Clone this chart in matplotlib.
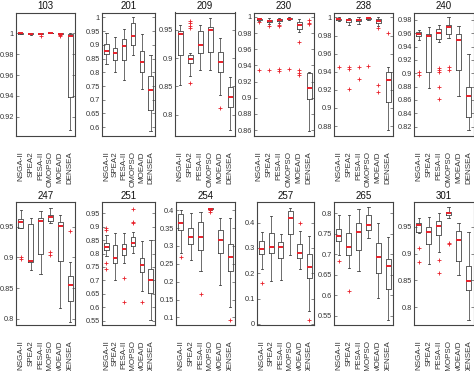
import matplotlib
matplotlib.use("Agg")
import matplotlib.pyplot as plt
import numpy as np

plt.rcParams['font.family'] = ['Liberation Sans', 'DejaVu Sans']

algorithms = ["NSGA-II", "SPEA2", "PESA-II", "OMOPSO", "MOEA/D", "DENSEA"]
titles = ["103", "201", "209", "230", "238", "240",
          "247", "251", "254", "257", "265", "301"]

# ---- per-problem box statistics (median, q1, q3, whisker low, whisker high, outliers)
p103_med = [1.0, 0.9995, 0.9998, 1.0, 0.9995, 0.9978]
p103_q1 = [0.9998, 0.999, 0.9995, 0.9999, 0.999, 0.9385]
p103_q3 = [1.0, 1.0, 1.0, 1.0, 1.0, 0.999]
p103_lo = [0.9996, 0.998, 0.9993, 0.9999, 0.9985, 0.907]
p103_hi = [1.0, 1.0, 1.0, 1.0, 1.0, 1.0]
p103_out = [[], [], [0.9975], [], [0.9975, 0.998], []]

p201_med = [0.878, 0.872, 0.895, 0.933, 0.838, 0.734]
p201_q1 = [0.866, 0.844, 0.846, 0.899, 0.801, 0.661]
p201_q3 = [0.905, 0.887, 0.920, 0.978, 0.878, 0.785]
p201_lo = [0.832, 0.801, 0.771, 0.862, 0.740, 0.585]
p201_hi = [0.944, 0.929, 0.957, 1.0, 0.938, 0.862]
p201_out = [[], [], [], [], [], []]

p209_med = [0.9418, 0.8975, 0.9226, 0.9488, 0.8934, 0.8322]
p209_q1 = [0.905, 0.8905, 0.908, 0.911, 0.876, 0.8136]
p209_q3 = [0.9477, 0.905, 0.9477, 0.9547, 0.911, 0.8486]
p209_lo = [0.8526, 0.868, 0.8789, 0.8789, 0.835, 0.7728]
p209_hi = [0.9576, 0.908, 0.9576, 0.9704, 0.936, 0.866]
p209_out = [[], [0.965, 0.961, 0.957, 0.953, 0.8567], [], [], [0.8118], []]

p230_med = [0.9975, 0.995, 0.996, 0.998, 0.9897, 0.9116]
p230_q1 = [0.9965, 0.9935, 0.995, 0.9975, 0.9856, 0.898]
p230_q3 = [0.998, 0.9965, 0.9975, 0.9988, 0.9938, 0.930]
p230_lo = [0.995, 0.991, 0.9925, 0.9965, 0.9815, 0.8594]
p230_hi = [0.999, 0.999, 0.999, 0.9995, 0.998, 0.932]
p230_out = [[0.994, 0.934], [0.9885, 0.934], [0.9905, 0.989, 0.935, 0.933],
            [0.935], [0.969, 0.934, 0.931, 0.928], [0.996, 0.9926, 0.991]]

p238_med = [0.998, 0.997, 0.9975, 0.9989, 0.9956, 0.9308]
p238_q1 = [0.997, 0.9955, 0.996, 0.998, 0.9935, 0.9069]
p238_q3 = [0.9988, 0.998, 0.9985, 0.9993, 0.998, 0.940]
p238_lo = [0.9962, 0.9915, 0.993, 0.9975, 0.991, 0.8756]
p238_hi = [1.0, 0.9995, 1.0, 1.0, 1.0, 0.9448]
p238_out = [[0.9455], [0.9455, 0.943, 0.9205], [0.9455, 0.9316],
            [0.946], [0.988, 0.925, 0.918], [0.9823]]

p240_med = [0.959, 0.956, 0.961, 0.970, 0.950, 0.866]
p240_q1 = [0.956, 0.9025, 0.951, 0.959, 0.905, 0.835]
p240_q3 = [0.9625, 0.959, 0.966, 0.9725, 0.959, 0.879]
p240_lo = [0.950, 0.8775, 0.9475, 0.9525, 0.866, 0.815]
p240_hi = [0.965, 0.969, 0.9725, 0.984, 0.971, 0.929]
p240_out = [[0.9025, 0.8975], [], [0.9075, 0.905, 0.9025, 0.880, 0.861],
            [0.910, 0.905], [], []]

p247_med = [0.9567, 0.894, 0.9594, 0.9656, 0.9511, 0.8555]
p247_q1 = [0.9472, 0.8917, 0.9055, 0.9583, 0.894, 0.8288]
p247_q3 = [0.9622, 0.9539, 0.9639, 0.9694, 0.9567, 0.8694]
p247_lo = [0.9472, 0.8789, 0.8733, 0.9556, 0.8177, 0.7944]
p247_hi = [0.9767, 0.9639, 0.975, 0.9806, 0.9694, 0.8917]
p247_out = [[0.900, 0.897], [], [], [0.908, 0.904], [], [0.943]]

p251_med = [0.826, 0.783, 0.816, 0.841, 0.758, 0.702]
p251_q1 = [0.814, 0.764, 0.795, 0.828, 0.733, 0.652]
p251_q3 = [0.841, 0.832, 0.836, 0.861, 0.783, 0.742]
p251_lo = [0.791, 0.700, 0.766, 0.801, 0.662, 0.553]
p251_hi = [0.869, 0.876, 0.878, 0.882, 0.848, 0.851]
p251_out = [[0.894, 0.888, 0.764, 0.742], [], [0.708, 0.621],
            [0.965, 0.919, 0.913], [0.621], []]

p254_med = [0.3655, 0.3255, 0.3255, 0.4047, 0.318, 0.268]
p254_q1 = [0.346, 0.305, 0.288, 0.403, 0.281, 0.231]
p254_q3 = [0.389, 0.349, 0.367, 0.4055, 0.344, 0.305]
p254_lo = [0.281, 0.260, 0.231, 0.402, 0.190, 0.128]
p254_hi = [0.402, 0.391, 0.395, 0.406, 0.3795, 0.3795]
p254_out = [[0.269], [], [0.167], [0.400, 0.396], [], [0.094]]

p257_med = [0.294, 0.302, 0.302, 0.416, 0.278, 0.226]
p257_q1 = [0.275, 0.281, 0.259, 0.354, 0.262, 0.180]
p257_q3 = [0.328, 0.357, 0.324, 0.446, 0.315, 0.276]
p257_lo = [0.215, 0.171, 0.173, 0.272, 0.215, 0.053]
p257_hi = [0.363, 0.425, 0.354, 0.459, 0.367, 0.346]
p257_out = [[0.160], [], [], [], [0.399], [0.014]]

p265_med = [0.745, 0.719, 0.754, 0.773, 0.694, 0.672]
p265_q1 = [0.733, 0.699, 0.712, 0.759, 0.655, 0.617]
p265_q3 = [0.761, 0.753, 0.776, 0.796, 0.729, 0.690]
p265_lo = [0.699, 0.668, 0.660, 0.739, 0.593, 0.540]
p265_hi = [0.796, 0.796, 0.810, 0.815, 0.777, 0.742]
p265_out = [[0.685], [0.612], [], [], [], []]

p301_med = [0.953, 0.941, 0.952, 0.975, 0.925, 0.8496]
p301_q1 = [0.941, 0.918, 0.9345, 0.972, 0.887, 0.832]
p301_q3 = [0.957, 0.950, 0.961, 0.978, 0.9425, 0.877]
p301_lo = [0.938, 0.881, 0.9035, 0.967, 0.860, 0.776]
p301_hi = [0.967, 0.969, 0.976, 0.986, 0.956, 0.941]
p301_out = [[0.910, 0.885], [], [0.888, 0.864], [0.920, 0.917], [], []]

# y tick values per panel
ticks_103 = [0.92, 0.94, 0.96, 0.98, 1]
ticks_201 = [0.6, 0.65, 0.7, 0.75, 0.8, 0.85, 0.9, 0.95, 1]
ticks_209 = [0.8, 0.85, 0.9, 0.95]
ticks_230 = [0.86, 0.88, 0.9, 0.92, 0.94, 0.96, 0.98, 1]
ticks_238 = [0.88, 0.9, 0.92, 0.94, 0.96, 0.98, 1]
ticks_240 = [0.82, 0.84, 0.86, 0.88, 0.9, 0.92, 0.94, 0.96, 0.98]
ticks_247 = [0.8, 0.85, 0.9, 0.95]
ticks_251 = [0.55, 0.6, 0.65, 0.7, 0.75, 0.8, 0.85, 0.9, 0.95]
ticks_254 = [0.1, 0.15, 0.2, 0.25, 0.3, 0.35, 0.4]
ticks_257 = [0, 0.1, 0.2, 0.3, 0.4]
ticks_265 = [0.55, 0.6, 0.65, 0.7, 0.75, 0.8]
ticks_301 = [0.8, 0.85, 0.9, 0.95]

panels = [
    (p103_med, p103_q1, p103_q3, p103_lo, p103_hi, p103_out, ticks_103, (0.9015, 1.020)),
    (p201_med, p201_q1, p201_q3, p201_lo, p201_hi, p201_out, ticks_201, (0.568, 1.018)),
    (p209_med, p209_q1, p209_q3, p209_lo, p209_hi, p209_out, ticks_209, (0.763, 0.980)),
    (p230_med, p230_q1, p230_q3, p230_lo, p230_hi, p230_out, ticks_230, (0.8526, 1.0055)),
    (p238_med, p238_q1, p238_q3, p238_lo, p238_hi, p238_out, ticks_238, (0.869, 1.0055)),
    (p240_med, p240_q1, p240_q3, p240_lo, p240_hi, p240_out, ticks_240, (0.806, 0.991)),
    (p247_med, p247_q1, p247_q3, p247_lo, p247_hi, p247_out, ticks_247, (0.790, 0.990)),
    (p251_med, p251_q1, p251_q3, p251_lo, p251_hi, p251_out, ticks_251, (0.534, 0.992)),
    (p254_med, p254_q1, p254_q3, p254_lo, p254_hi, p254_out, ticks_254, (0.079, 0.423)),
    (p257_med, p257_q1, p257_q3, p257_lo, p257_hi, p257_out, ticks_257, (-0.004, 0.481)),
    (p265_med, p265_q1, p265_q3, p265_lo, p265_hi, p265_out, ticks_265, (0.528, 0.828)),
    (p301_med, p301_q1, p301_q3, p301_lo, p301_hi, p301_out, ticks_301, (0.767, 0.996)),
]

W, H = 474, 371
fig = plt.figure(figsize=(W / 100, H / 100), dpi=100)

row_y = [(12.5, 136), (202, 325)]
col_x = [[(16, 75), (102, 155), (175, 235), (254, 314), (334, 393), (414, 473.5)],
         [(16, 75), (102, 155), (176, 235), (257, 314), (334, 393), (414, 473.5)]]

def fmt(v):
    s = ("%.2f" % v).rstrip('0').rstrip('.')
    return s if s else "0"

for i, (med, q1, q3, lo, hi, outs, ticks, ylim) in enumerate(panels):
    r, c = divmod(i, 6)
    x0, x1 = col_x[r][c]
    yt, yb = row_y[r]
    ax = fig.add_axes([x0 / W, 1 - yb / H, (x1 - x0) / W, (yb - yt) / H])
    stats = []
    for k in range(6):
        stats.append(dict(med=med[k], q1=q1[k], q3=q3[k], whislo=lo[k],
                          whishi=hi[k], fliers=outs[k], label=algorithms[k]))
    ax.bxp(stats, positions=np.arange(1, 7), widths=0.5, showfliers=True,
           boxprops=dict(color='#444444', linewidth=0.6),
           whiskerprops=dict(color='#555555', linewidth=0.6),
           capprops=dict(color='#444444', linewidth=0.6),
           medianprops=dict(color='#e8202a', linewidth=1.4),
           flierprops=dict(marker='+', markeredgecolor='#e8202a',
                           markersize=2.5, markeredgewidth=0.6, linestyle='none'))
    ax.set_xlim(0.5, 6.5)
    ax.set_ylim(*ylim)
    ax.set_yticks(ticks)
    ax.set_yticklabels([fmt(t) for t in ticks])
    ax.set_xticks(np.arange(1, 7))
    ax.set_xticklabels(algorithms, rotation=90, fontsize=5.8, color='#333333')
    ax.tick_params(axis='x', length=0, pad=11)
    ax.tick_params(axis='y', direction='in', length=2, width=0.5, labelsize=5.3,
                   left=True, right=True, labelcolor='#333333', color='#555555', pad=1.5)
    for s in ax.spines.values():
        s.set_color('#444444')
        s.set_linewidth(0.8)
    ax.set_title(titles[i], fontsize=7, pad=2.5, color='#111111')

fig.savefig("out.png", dpi=100)
